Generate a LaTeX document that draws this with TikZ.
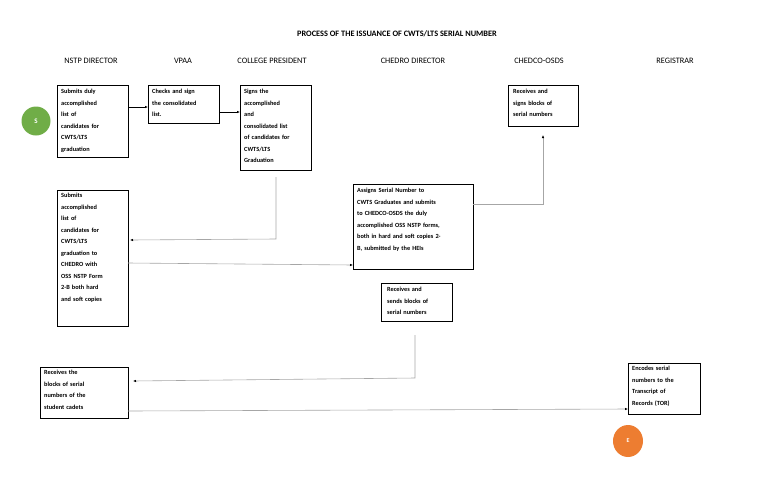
\documentclass[tikz,border=0pt]{standalone}
\usepackage{fontspec}
\setmainfont{Carlito}
\usetikzlibrary{arrows.meta,shapes.geometric}
\begin{document}
\begin{tikzpicture}[x=1pt,y=-1pt,
  box/.style={draw,line width=0.8pt,anchor=north west,inner sep=0pt},
  lab/.style={font=\fontsize{6.3}{11.5}\selectfont\bfseries,align=left,anchor=north west,inner sep=0pt},
  conn/.style={draw=gray!70,line width=0.6pt,-{Latex[length=3pt,width=2.5pt,black]}},
  hdr/.style={font=\fontsize{8.3}{9}\selectfont}]
\useasboundingbox (0,0) rectangle (768,480);
\node[font=\fontsize{8.3}{9}\selectfont\bfseries] (title) at (397,34) {PROCESS OF THE ISSUANCE OF CWTS/LTS SERIAL NUMBER};
\node[hdr] (h1) at (91,61) {NSTP DIRECTOR};
\node[hdr] (h2) at (183,61) {VPAA};
\node[hdr] (h3) at (272,61) {COLLEGE PRESIDENT};
\node[hdr] (h4) at (413,61) {CHEDRO DIRECTOR};
\node[hdr] (h5) at (539,61) {CHEDCO-OSDS};
\node[hdr] (h6) at (675,61) {REGISTRAR};
\node[circle,fill={rgb,255:red,112;green,173;blue,71},minimum size=29pt,inner sep=0pt,text=white,font=\fontsize{7}{8}\selectfont\bfseries] (S) at (36,121) {S};
\node[ellipse,fill={rgb,255:red,237;green,125;blue,49},minimum width=30pt,minimum height=32pt,inner sep=0pt,text=white,font=\fontsize{6}{7}\selectfont\bfseries] (E) at (628,441) {E};
% boxes
\draw[box] (57,85) rectangle (128,157);
\node[lab,text width=66pt] (a) at (61,89) {Submits duly\\accomplished\\list of\\candidates for\\CWTS/LTS\\graduation};
\draw[box] (148,85) rectangle (219,123);
\node[lab,text width=66pt] (b) at (152,89) {Checks and sign\\the consolidated\\list.};
\draw[box] (240,85) rectangle (311,170);
\node[lab,text width=66pt] (c) at (244,89) {Signs the\\accomplished\\and\\consolidated list\\of candidates for\\CWTS/LTS\\Graduation};
\draw[box] (57,190) rectangle (128,326);
\node[lab,text width=66pt] (d) at (61,193) {Submits\\accomplished\\list of\\candidates for\\CWTS/LTS\\graduation to\\CHEDRO with\\OSS NSTP Form\\2-B both hard\\and soft copies};
\draw[box] (353,184) rectangle (473,269);
\node[lab,text width=116pt] (e) at (357,188) {Assigns Serial Number to\\CWTS Graduates and submits\\to CHEDCO-OSDS the duly\\accomplished OSS NSTP forms,\\both in hard and soft copies 2-\\B, submitted by the HEIs};
\draw[box] (508,85) rectangle (578,126);
\node[lab,text width=66pt] (f) at (513,89) {Receives and\\signs blocks of\\serial numbers};
\draw[box] (381,283) rectangle (452,321);
\node[lab,text width=66pt] (g) at (387,287) {Receives and\\sends blocks of\\serial numbers};
\draw[box] (40,367) rectangle (128,418);
\node[lab,text width=84pt] (h) at (44,370) {Receives the\\blocks of serial\\numbers of the\\student cadets};
\draw[box] (628,363) rectangle (700,414);
\node[lab,text width=68pt] (i) at (632,366) {Encodes serial\\numbers to the\\Transcript of\\Records (TOR)};
% connector anchors
\coordinate (a1) at (128,107); \coordinate (b1) at (148,107);
\coordinate (b2) at (219,112); \coordinate (c1) at (240,112);
\coordinate (c2) at (276,177); \coordinate (d1) at (130,240);
\coordinate (d2) at (128,263); \coordinate (e1) at (353,265);
\coordinate (e2) at (473,204); \coordinate (f1) at (543,135);
\coordinate (g1) at (415,335); \coordinate (h1c) at (133,381);
\coordinate (h2c) at (128,411); \coordinate (i1) at (628,409);
\draw[conn,draw=black] (a1) -- (b1);
\draw[conn,draw=black] (b2) -- (c1);
\draw[conn] (c2) -- (276,239) -- (d1);
\draw[conn] (d2) -- (e1);
\draw[conn] (e2) -- (543,204) -- (f1);
\draw[conn] (g1) -- (415,378) -- (h1c);
\draw[conn] (h2c) -- (i1);
\end{tikzpicture}
\end{document}
